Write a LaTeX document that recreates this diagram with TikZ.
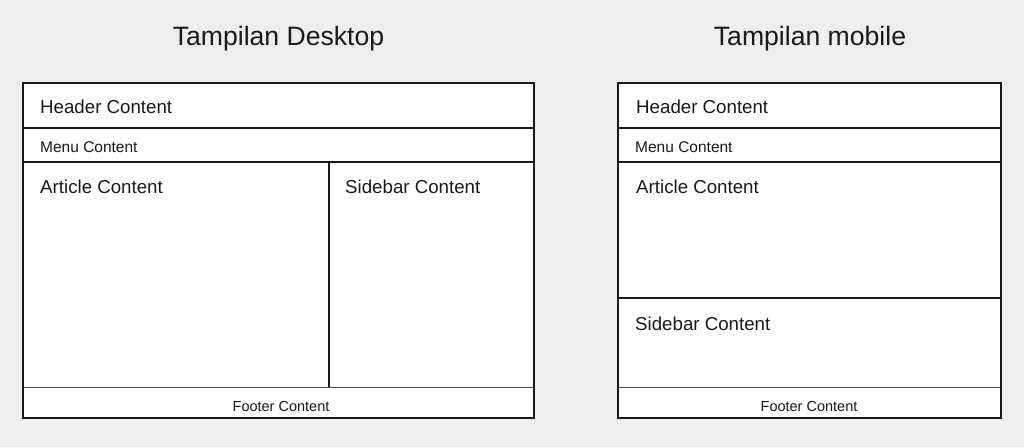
\documentclass[tikz,border=0pt]{standalone}
\usepackage{fontspec}
\setmainfont{Liberation Sans}
\definecolor{bg}{HTML}{EEEEEE}
\definecolor{ink}{HTML}{1A1A1A}
\begin{document}
\begin{tikzpicture}[x=1pt,y=-1pt,
  frame/.style={draw=ink,line width=1.7pt,fill=white},
  divider/.style={draw=ink,line width=1.5pt},
  thin/.style={draw=ink!80,line width=1pt},
  title/.style={font=\fontsize{26.6}{30}\selectfont,text=ink,inner sep=0pt,anchor=base},
  big/.style={font=\fontsize{18.7}{22}\selectfont,text=ink,inner sep=0pt,anchor=west},
  menu/.style={font=\fontsize{15.5}{18}\selectfont,text=ink,inner sep=0pt,anchor=west},
  foot/.style={font=\fontsize{14.5}{17}\selectfont,text=ink,inner sep=0pt}]
\fill[bg] (0,0) rectangle (1024,447);
\useasboundingbox (0,0) rectangle (1024,447);
% titles
\node[title] (t1) at (278.5,45.5) {Tampilan Desktop};
\node[title] (t2) at (810,45.5) {Tampilan mobile};
% desktop layout
\draw[frame] (23,83) rectangle (534,418);
\draw[divider] (23,128) -- (534,128);
\draw[divider] (23,162) -- (534,162);
\draw[divider] (329,162) -- (329,387);
\draw[thin] (23,387) -- (534,387);
\draw[ink,line width=1.7pt] (23,83) rectangle (534,418);
\node[big] (dh) at (40,106.5) {Header Content};
\node[menu] (dm) at (40,147.5) {Menu Content};
\node[big] (da) at (40,186.5) {Article Content};
\node[big] (ds) at (345,186.5) {Sidebar Content};
\node[foot] (df) at (281,406.5) {Footer Content};
% mobile layout
\draw[frame] (618,83) rectangle (1001,418);
\draw[divider] (618,128) -- (1001,128);
\draw[divider] (618,162) -- (1001,162);
\draw[divider] (618,298) -- (1001,298);
\draw[thin] (618,387) -- (1001,387);
\draw[ink,line width=1.7pt] (618,83) rectangle (1001,418);
\node[big] (mh) at (636,106.5) {Header Content};
\node[menu] (mm) at (635,147.5) {Menu Content};
\node[big] (ma) at (636,186.5) {Article Content};
\node[big] (ms) at (635,323.5) {Sidebar Content};
\node[foot] (mf) at (809,406.5) {Footer Content};
\end{tikzpicture}
\end{document}
